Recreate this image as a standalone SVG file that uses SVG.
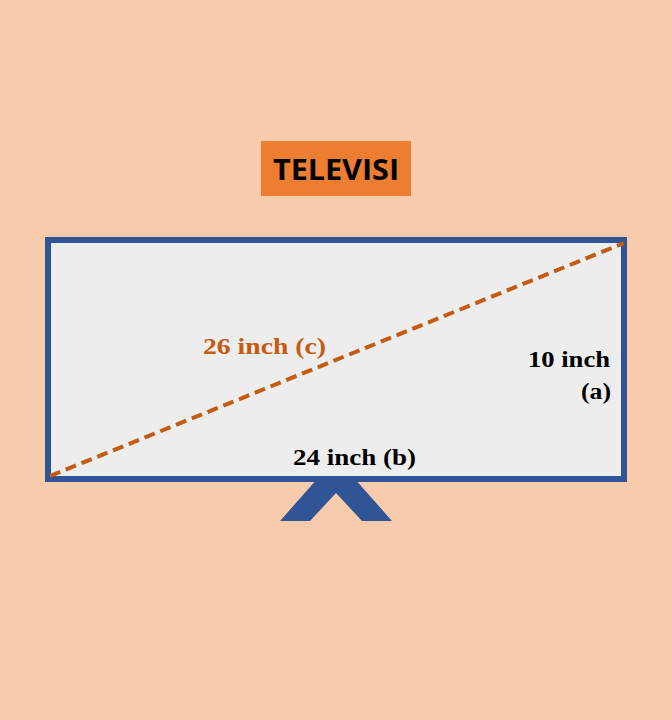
<svg xmlns="http://www.w3.org/2000/svg" width="672" height="720" viewBox="0 0 672 720">
<style>
.lbl{font-family:"Liberation Serif","DejaVu Serif",serif;font-weight:bold;font-size:23px;fill:#000}
.title{font-family:"Open Sans","Liberation Sans",sans-serif;font-weight:bold;font-size:29px;fill:#000}
</style>
<rect width="672" height="720" fill="#F8CBAD"/>
<g id="title">
<rect x="261" y="141" width="150" height="55" fill="#ED7D31"/>
<text class="title" x="336" y="180" text-anchor="middle" textLength="126" lengthAdjust="spacingAndGlyphs">TELEVISI</text>
</g>
<g id="stand">
<polygon points="280,521 318,478 354,478 392,521 362,521 336,493 310,521" fill="#2F5597"/>
</g>
<g id="tv">
<rect x="48" y="240" width="576" height="239" fill="#EDEDED" stroke="#2F5597" stroke-width="6"/>
</g>
<g id="connectors">
<line x1="50" y1="476" x2="624" y2="243" stroke="#C55A11" stroke-width="4" stroke-dasharray="11,6"/>
</g>
<g id="labels">
<text class="lbl" x="203" y="354" style="fill:#C55A11" textLength="123" lengthAdjust="spacingAndGlyphs">26 inch (c)</text>
<text class="lbl" x="528" y="367" textLength="82" lengthAdjust="spacingAndGlyphs">10 inch</text>
<text class="lbl" x="581" y="399" textLength="30" lengthAdjust="spacingAndGlyphs">(a)</text>
<text class="lbl" x="293" y="465" textLength="123" lengthAdjust="spacingAndGlyphs">24 inch (b)</text>
</g>
</svg>
